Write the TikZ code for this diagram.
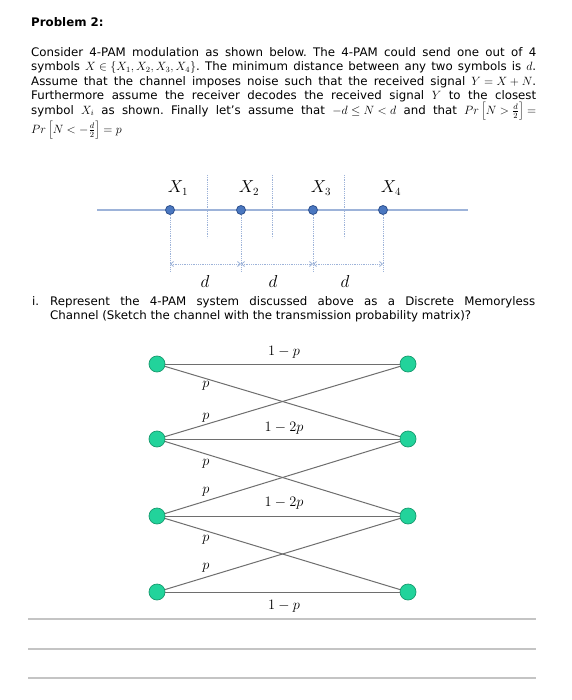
\documentclass[tikz,border=0pt]{standalone}
\usepackage{fontspec}
\setmainfont{DejaVu Sans}
\usetikzlibrary{arrows.meta}
\thickmuskip=5mu
\medmuskip=4mu
\definecolor{axisblue}{HTML}{9DB3D9}
\definecolor{dotblue}{HTML}{4A77C0}
\definecolor{dotedge}{HTML}{2F528F}
\definecolor{dmcfill}{HTML}{22D39B}
\definecolor{dmcedge}{HTML}{169A6E}
\definecolor{edgegray}{HTML}{6E6E6E}
\definecolor{rulegray}{HTML}{C4C4C4}
\tikzset{
  body/.style={font=\fontsize{11.8}{14.5}\selectfont\frenchspacing, inner sep=0pt, align=justify, anchor=north west},
  sym/.style={circle, fill=dotblue, draw=dotedge, line width=0.8pt, minimum size=9pt, inner sep=0pt},
  symlab/.style={font=\fontsize{16}{16}\selectfont, inner sep=0pt},
  guide/.style={axisblue, densely dotted, line width=0.8pt},
  dimarrow/.style={axisblue, densely dotted, line width=0.8pt, {Straight Barb[length=3pt,width=5pt]}-{Straight Barb[length=3pt,width=5pt]}},
  dlab/.style={font=\fontsize{16}{16}\selectfont, inner sep=0pt},
  dmc/.style={circle, fill=dmcfill, draw=dmcedge, line width=0.7pt, minimum size=16pt, inner sep=0pt},
  chan/.style={edgegray, line width=1pt},
  plab/.style={font=\fontsize{14}{14}\selectfont, inner sep=0pt},
  answer/.style={rulegray, line width=1.3pt}
}
\begin{document}
\begin{tikzpicture}[x=1pt,y=-1pt]
\path[fill=white] (0,0) rectangle (571,700);
\useasboundingbox (0,0) rectangle (571,700);

% title and paragraph
\node[body, font=\fontsize{11.8}{14.5}\selectfont\bfseries] (title) at (31,17) {Problem 2:};
\node[body, text width=505pt] (para) at (31,47) {Consider 4-PAM modulation as shown below. The 4-PAM could send one out of 4\linebreak
symbols $X\in\{X_1,X_2,X_3,X_4\}$. The minimum distance between any two symbols is $d$.\linebreak
Assume that the channel imposes noise such that the received signal $Y=X+N$.\linebreak
Furthermore assume the receiver decodes the received signal $Y$ to the closest\linebreak
symbol $X_i$ as shown. Finally let's assume that $-d\le N<d$ and that $Pr\left[N>\frac{d}{2}\right]=$\linebreak
$Pr\left[N<-\frac{d}{2}\right]=p$\par};

% number line
\coordinate (axL) at (97,210);
\coordinate (axR) at (468,210);
\draw[axisblue, line width=1.2pt] (axL) -- (axR);
\foreach \i/\x in {1/170,2/241,3/313,4/383}{
  \node[sym] (x\i) at (\x,210) {};
  \node[symlab] (lx\i) at (\x+8,188) {$X_{\i}$};
  \coordinate (b\i) at (\x,271);
  \draw[guide] (x\i) -- (b\i);
}
\foreach \j/\x in {1/207,2/272,3/344}{
  \coordinate (gt\j) at (\x,175);
  \coordinate (gb\j) at (\x,238);
  \draw[guide] (gt\j) -- (gb\j);
}
\foreach \i/\x in {1/170,2/241,3/313,4/383}{
  \coordinate (a\i) at (\x,264);
}
\draw[dimarrow] (a1) -- (a2);
\draw[dimarrow] (a2) -- (a3);
\draw[dimarrow] (a3) -- (a4);
\node[dlab] (d1) at (205,281) {$d$};
\node[dlab] (d2) at (273,281) {$d$};
\node[dlab] (d3) at (345,281) {$d$};

% item i
\node[body] (inum) at (32,296) {i.};
\node[body, text width=485pt] (itext) at (50,296) {Represent the 4-PAM system discussed above as a Discrete Memoryless\linebreak
Channel (Sketch the channel with the transmission probability matrix)?\par};

% DMC
\foreach \i/\y in {1/364,2/439,3/516,4/592}{
  \node[dmc] (L\i) at (157,\y) {};
  \node[dmc] (R\i) at (408,\y) {};
}
\draw[chan] (L1) -- (R1);
\draw[chan] (L1) -- (R2);
\draw[chan] (L2) -- (R1);
\draw[chan] (L2) -- (R2);
\draw[chan] (L2) -- (R3);
\draw[chan] (L3) -- (R2);
\draw[chan] (L3) -- (R3);
\draw[chan] (L3) -- (R4);
\draw[chan] (L4) -- (R3);
\draw[chan] (L4) -- (R4);

\node[plab] (t11) at (284,352) {$1-p$};
\node[plab] (t12) at (206,386) {$p$};
\node[plab] (t21) at (206,418) {$p$};
\node[plab] (t22) at (284,428) {$1-2p$};
\node[plab] (t23) at (206,464) {$p$};
\node[plab] (t32) at (206,492) {$p$};
\node[plab] (t33) at (284,503) {$1-2p$};
\node[plab] (t34) at (206,540) {$p$};
\node[plab] (t43) at (206,568) {$p$};
\node[plab] (t44) at (284,606) {$1-p$};

% answer lines
\foreach \k/\y in {1/619,2/649,3/678}{
  \coordinate (rl\k) at (28,\y);
  \coordinate (rr\k) at (536,\y);
  \draw[answer] (rl\k) -- (rr\k);
}
\end{tikzpicture}
\end{document}
